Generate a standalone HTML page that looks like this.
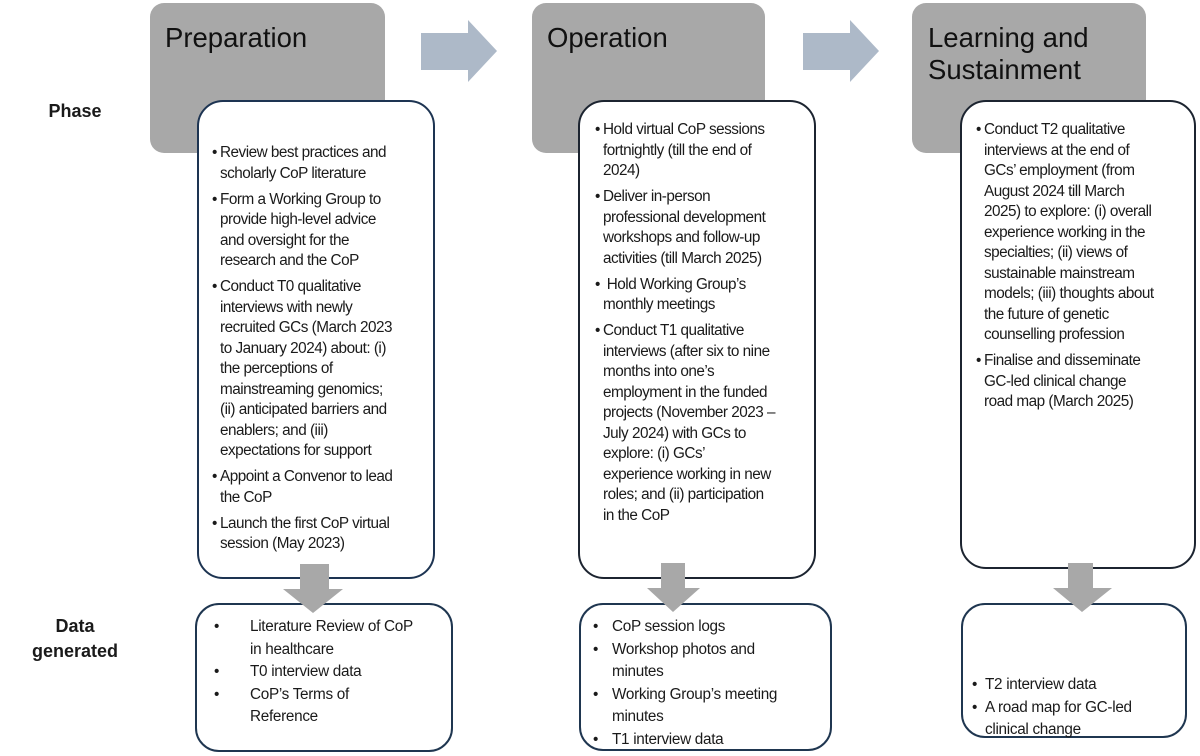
<!DOCTYPE html>
<html><head><meta charset="utf-8"><style>
body{margin:0;width:1200px;height:756px;background:#fff;position:relative;overflow:hidden;font-family:"Liberation Sans",sans-serif;color:#1a1a1a}
.g{position:absolute;background:#a8a8a8;border-radius:14px;top:3px;height:150px}
.t{position:absolute;font-size:27.5px;color:#111;line-height:32px}
.w{position:absolute;background:#fff;border:2px solid #1c2430;border-radius:26px;top:100px;box-sizing:border-box}
.d{position:absolute;background:#fff;border:2px solid #1f3650;border-radius:24px;top:603px;box-sizing:border-box}
.tx{position:absolute;font-size:15.3px;line-height:20.5px;letter-spacing:-0.5px;white-space:nowrap}
.tx p{margin:0 0 5.5px 0;position:relative}
.tx p::before{content:"•";position:absolute;left:-8px}
.dl{position:absolute;font-size:15.3px;line-height:22.6px;white-space:nowrap;letter-spacing:-0.3px}
.dl div{position:relative}
.lab{position:absolute;font-weight:bold;font-size:18px;text-align:center;line-height:25px}
svg{position:absolute;left:0;top:0}
</style></head><body>
<div class="lab" style="left:30px;top:99px;width:90px">Phase</div>
<div class="lab" style="left:10px;top:614px;width:130px">Data<br>generated</div>

<div class="g" style="left:150px;width:235px"></div>
<div class="g" style="left:532px;width:233px"></div>
<div class="g" style="left:912px;width:234px"></div>
<div class="t" style="left:165px;top:22px">Preparation</div>
<div class="t" style="left:547px;top:22px">Operation</div>
<div class="t" style="left:928px;top:22px">Learning and<br>Sustainment</div>

<div class="w" style="left:197px;width:238px;height:479px;border-color:#1d3452"></div>
<div class="w" style="left:578px;width:238px;height:479px"></div>
<div class="w" style="left:960px;width:236px;height:469px"></div>

<div class="d" style="left:195px;width:258px;height:149px"></div>
<div class="d" style="left:579px;width:253px;height:148px"></div>
<div class="d" style="left:961px;width:226px;height:135px"></div>

<svg width="1200" height="756">
<polygon points="421,33 468,33 468,20 497,51 468,82 468,70 421,70" fill="#adb9c8"/>
<polygon points="803,33 850,33 850,20 879,51 850,82 850,70 803,70" fill="#adb9c8"/>
<polygon points="300,564 329,564 329,589 343,589 313,613 283,589 300,589" fill="#a8a8a8"/>
<polygon points="661,563 685,563 685,588 700,588 673,612 647,588 661,588" fill="#a8a8a8"/>
<polygon points="1068,563 1093,563 1093,588 1112,588 1082,612 1053,588 1068,588" fill="#a8a8a8"/>
</svg>

<div class="tx" style="left:220px;top:143px">
<p>Review best practices and<br>scholarly CoP literature</p>
<p>Form a Working Group to<br>provide high-level advice<br>and oversight for the<br>research and the CoP</p>
<p>Conduct T0 qualitative<br>interviews with newly<br>recruited GCs (March 2023<br>to January 2024) about: (i)<br>the perceptions of<br>mainstreaming genomics;<br>(ii) anticipated barriers and<br>enablers; and (iii)<br>expectations for support</p>
<p>Appoint a Convenor to lead<br>the CoP</p>
<p>Launch the first CoP virtual<br>session (May 2023)</p>
</div>

<div class="tx" style="left:603px;top:120px">
<p>Hold virtual CoP sessions<br>fortnightly (till the end of<br>2024)</p>
<p>Deliver in-person<br>professional development<br>workshops and follow-up<br>activities (till March 2025)</p>
<p>&nbsp;Hold Working Group’s<br>monthly meetings</p>
<p>Conduct T1 qualitative<br>interviews (after six to nine<br>months into one’s<br>employment in the funded<br>projects (November 2023 –<br>July 2024) with GCs to<br>explore: (i) GCs’<br>experience working in new<br>roles; and (ii) participation<br>in the CoP</p>
</div>

<div class="tx" style="left:984px;top:120px">
<p>Conduct T2 qualitative<br>interviews at the end of<br>GCs’ employment (from<br>August 2024 till March<br>2025) to explore: (i) overall<br>experience working in the<br>specialties; (ii) views of<br>sustainable mainstream<br>models; (iii) thoughts about<br>the future of genetic<br>counselling profession</p>
<p>Finalise and disseminate<br>GC-led clinical change<br>road map (March 2025)</p>
</div>

<div class="dl" style="left:250px;top:616px">
<div><span style="position:absolute;left:-36px">•</span>Literature Review of CoP</div>
<div>in healthcare</div>
<div><span style="position:absolute;left:-36px">•</span>T0 interview data</div>
<div><span style="position:absolute;left:-36px">•</span>CoP’s Terms of</div>
<div>Reference</div>
</div>

<div class="dl" style="left:612px;top:616px">
<div><span style="position:absolute;left:-19px">•</span>CoP session logs</div>
<div><span style="position:absolute;left:-19px">•</span>Workshop photos and</div>
<div>minutes</div>
<div><span style="position:absolute;left:-19px">•</span>Working Group’s meeting</div>
<div>minutes</div>
<div><span style="position:absolute;left:-19px">•</span>T1 interview data</div>
</div>

<div class="dl" style="left:985px;top:674px">
<div><span style="position:absolute;left:-13px">•</span>T2 interview data</div>
<div><span style="position:absolute;left:-13px">•</span>A road map for GC-led</div>
<div>clinical change</div>
</div>
</body></html>
